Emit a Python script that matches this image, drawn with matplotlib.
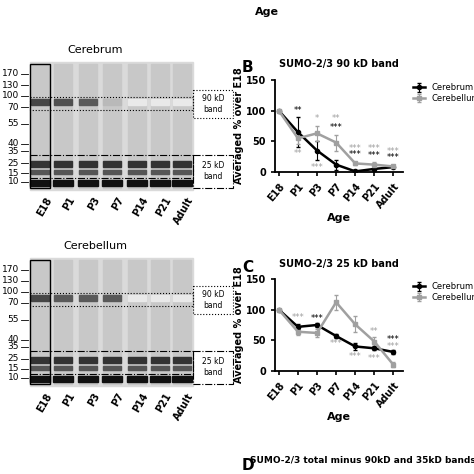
import matplotlib
matplotlib.use("Agg")
import matplotlib.pyplot as plt
import numpy as np
from matplotlib.patches import Rectangle

ages = ["E18", "P1", "P3", "P7", "P14", "P21", "Adult"]
b_cerebrum = [100, 65, 35, 12, 1, 5, 8]
b_cerebrum_err = [0, 25, 16, 8, 2, 3, 2]
b_cerebellum = [100, 55, 63, 48, 14, 12, 9]
b_cerebellum_err = [0, 10, 12, 13, 3, 4, 3]
c_cerebrum = [100, 72, 75, 57, 40, 37, 31]
c_cerebrum_err = [0, 4, 4, 4, 5, 3, 3]
c_cerebellum = [100, 64, 62, 112, 76, 48, 10]
c_cerebellum_err = [0, 6, 7, 12, 13, 8, 4]
mw_labels = ["170", "130", "100", "70", "55", "40", "35", "25", "15", "10"]
mw_y = [74, 85, 96, 107, 124, 144, 151, 163, 173, 182]  # pixel rows in blot 1
cerebrum_90 = [0.9, 0.85, 0.8, 0.3, 0.05, 0.05, 0.05]
cerebellum_90 = [0.9, 0.8, 0.8, 0.8, 0.05, 0.05, 0.05]

W = 474
fig = plt.figure(figsize=(4.74, 4.74), dpi=100)
def px(x0, y0, x1, y1):
    return [x0 / W, 1 - y1 / W, (x1 - x0) / W, (y1 - y0) / W]

fig.text(267 / W, 1 - 12 / W, "Age", fontsize=8, fontweight="bold", ha="center", va="center")

lane_x = [40, 63, 88, 112, 137, 160, 182]

def blot(y0, title, i90):
    ax = fig.add_axes(px(0, y0 - 25, W / 2, y0 + 175))
    ax.set_xlim(0, W / 2); ax.set_ylim(y0 + 175, y0 - 25); ax.axis("off")
    ax.text(95, y0 - 12, title, fontsize=8, ha="center", va="center")
    ax.add_patch(Rectangle((30, y0), 163, 128, color="#dadada", zorder=0))
    off = y0 - 62
    for i, lx in enumerate(lane_x):
        ax.add_patch(Rectangle((lx - 9, y0 + 2), 18, 124, color="#c8c8c8", zorder=1))
        g = 1 - i90[i]
        ax.add_patch(Rectangle((lx - 9, 99 + off), 18, 6, color=str(0.2 + 0.75 * g), zorder=2))
        ax.add_patch(Rectangle((lx - 9, 161 + off), 18, 6, color="#333333", zorder=2))
        ax.add_patch(Rectangle((lx - 9, 170 + off), 18, 4, color="#555555", zorder=2))
        ax.add_patch(Rectangle((lx - 10, 180 + off), 20, 6, color="#111111", zorder=2))
        ax.text(lx + 5, y0 + 133, ages[i], rotation=60, fontsize=7, fontweight="bold",
                ha="right", va="top", rotation_mode="anchor")
    ax.add_patch(Rectangle((30, y0 + 2), 20, 124, fill=False, lw=1, ec="k", zorder=3))
    for lab, yy in zip(mw_labels, mw_y):
        ax.text(19, yy + off, lab, fontsize=6.5, ha="right", va="center")
        ax.plot([21, 28], [yy + off] * 2, color="k", lw=0.6)
    ax.add_patch(Rectangle((30, 97 + off), 163, 13, fill=False, ls=":", lw=0.8, zorder=3))
    ax.add_patch(Rectangle((193, 90 + off), 40, 28, fill=False, ls=":", lw=0.8, zorder=3))
    ax.text(213, 104 + off, "90 kD\nband", fontsize=5.5, ha="center", va="center")
    ax.add_patch(Rectangle((30, 155 + off), 163, 23, fill=False, ls="-.", lw=0.8, zorder=3))
    ax.add_patch(Rectangle((193, 155 + off), 40, 33, fill=False, ls="-.", lw=0.8, zorder=3))
    ax.text(213, 171 + off, "25 kD\nband", fontsize=5.5, ha="center", va="center")

blot(62, "Cerebrum", cerebrum_90)
blot(258, "Cerebellum", cerebellum_90)

def panel(y_top, y_bot, letter, title, a, ae, b, be, stars):
    ax = fig.add_axes(px(275, y_top, 403, y_bot))
    x = np.arange(len(ages))
    ax.errorbar(x, a, yerr=ae, color="black", lw=1.8, marker="o", ms=3, capsize=1.5, label="Cerebrum", elinewidth=0.8)
    ax.errorbar(x, b, yerr=be, color="#a0a0a0", lw=1.8, marker="s", ms=3, capsize=1.5, label="Cerebellum", elinewidth=0.8)
    ax.set_ylim(0, 150); ax.set_yticks([0, 50, 100, 150])
    ax.set_xlim(-0.2, 6.5)
    ax.set_xticks(x); ax.set_xticklabels(ages, rotation=50, ha="right", rotation_mode="anchor")
    for s in ["top", "right"]:
        ax.spines[s].set_visible(False)
    for s in ["left", "bottom"]:
        ax.spines[s].set_linewidth(1.3)
    ax.tick_params(labelsize=7, width=1.2, length=3)
    for t in ax.get_xticklabels() + ax.get_yticklabels():
        t.set_fontweight("bold")
    ax.set_xlabel("Age", fontsize=8, fontweight="bold", labelpad=2)
    ax.set_ylabel("Averaged % over E18", fontsize=7, fontweight="bold", labelpad=1)
    ax.set_title(title, fontsize=7, fontweight="bold", pad=9)
    ax.legend(loc="upper left", bbox_to_anchor=(1.05, 1.0), frameon=False, fontsize=6,
              handlelength=1.5, borderaxespad=0, labelspacing=0.2)
    for xx, yy, s, c in stars:
        ax.text(xx, yy, s, fontsize=6, color=c, ha="center", va="center")
    fig.text(242 / W, 1 - (y_top - 12) / W, letter, fontsize=11, fontweight="bold", ha="left", va="center")

g = "#a0a0a0"
panel(80, 172, "B", "SUMO-2/3 90 kD band", b_cerebrum, b_cerebrum_err, b_cerebellum, b_cerebellum_err,
      [(1, 100, "**", "k"), (1, 30, "**", g), (2, 88, "*", g), (2, 8, "***", g),
       (3, 87, "**", g), (3, 72, "***", "k"), (4, 38, "***", g), (4, 28, "***", "k"),
       (5, 38, "***", g), (5, 27, "***", "k"), (6, 34, "***", g), (6, 23, "***", "k")])
panel(279, 371, "C", "SUMO-2/3 25 kD band", c_cerebrum, c_cerebrum_err, c_cerebellum, c_cerebellum_err,
      [(1, 88, "***", g), (2, 85, "***", "k"), (3, 45, "***", g), (4, 23, "***", g),
       (5, 20, "***", g), (5, 65, "**", g), (6, 52, "***", "k"), (6, 40, "***", g)])

fig.text(250 / W, 1 - 460 / W, "SUMO-2/3 total minus 90kD and 35kD bands", fontsize=6.5,
         fontweight="bold", ha="left", va="center")
fig.text(242 / W, 1 - 466 / W, "D", fontsize=11, fontweight="bold", ha="left", va="center")

fig.savefig("out.png", dpi=100, facecolor="white")
